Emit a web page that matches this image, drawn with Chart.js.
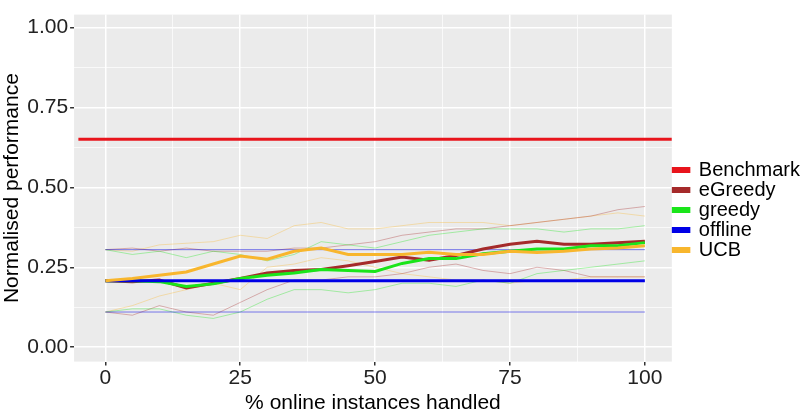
<!DOCTYPE html>
<html lang="en">
<head>
<meta charset="UTF-8">
<script src="https://cdn.jsdelivr.net/npm/chart.js"></script>
<style>
  body { margin: 0; background: #fff; }
  #wrap { width: 810px; height: 416px; }
</style>
</head>
<body>
<div id="wrap"><canvas id="c"></canvas></div>
<script>
const xs = [0, 5, 10, 15, 20, 25, 30, 35, 40, 45, 50, 55, 60, 65, 70, 75, 80, 85, 90, 95, 100];

const benchmark = 0.65;
const offline = 0.208;
const offlineUpper = 0.305;
const offlineLower = 0.11;

const ucb = [0.208, 0.215, 0.225, 0.235, 0.26, 0.285, 0.275, 0.3, 0.31, 0.29, 0.29, 0.29, 0.297, 0.29, 0.29, 0.3, 0.296, 0.3, 0.307, 0.31, 0.317];
const eGreedy = [0.208, 0.205, 0.21, 0.185, 0.2, 0.215, 0.232, 0.24, 0.243, 0.255, 0.268, 0.282, 0.272, 0.287, 0.307, 0.322, 0.331, 0.322, 0.322, 0.327, 0.331];
const greedy = [0.208, 0.208, 0.205, 0.19, 0.198, 0.215, 0.225, 0.232, 0.243, 0.24, 0.237, 0.262, 0.277, 0.277, 0.292, 0.3, 0.307, 0.307, 0.317, 0.317, 0.327];

const ucbUpper = [0.305, 0.3, 0.32, 0.325, 0.33, 0.35, 0.34, 0.38, 0.39, 0.37, 0.37, 0.38, 0.39, 0.39, 0.39, 0.38, 0.39, 0.4, 0.41, 0.42, 0.41];
const ucbLower = [0.11, 0.13, 0.16, 0.18, 0.2, 0.18, 0.25, 0.26, 0.28, 0.27, 0.25, 0.23, 0.22, 0.21, 0.21, 0.2, 0.21, 0.21, 0.22, 0.22, 0.22];
const eGreedyUpper = [0.305, 0.31, 0.3, 0.31, 0.3, 0.3, 0.3, 0.31, 0.31, 0.32, 0.33, 0.35, 0.36, 0.37, 0.37, 0.38, 0.39, 0.4, 0.41, 0.43, 0.44];
const eGreedyLower = [0.11, 0.1, 0.13, 0.11, 0.1, 0.14, 0.18, 0.21, 0.21, 0.22, 0.22, 0.23, 0.25, 0.26, 0.24, 0.23, 0.25, 0.24, 0.22, 0.22, 0.22];
const greedyUpper = [0.305, 0.29, 0.3, 0.28, 0.3, 0.29, 0.27, 0.29, 0.33, 0.32, 0.31, 0.33, 0.35, 0.36, 0.37, 0.37, 0.37, 0.36, 0.37, 0.37, 0.38];
const greedyLower = [0.11, 0.12, 0.12, 0.1, 0.09, 0.11, 0.15, 0.18, 0.18, 0.17, 0.18, 0.2, 0.2, 0.19, 0.21, 0.2, 0.23, 0.24, 0.25, 0.26, 0.27];

const yTicks = [0, 0.25, 0.5, 0.75, 1.0];
const xTicks = [0, 25, 50, 75, 100];

const pts = arr => arr.map((v, i) => ({ x: xs[i], y: v }));
const flat = v => [{ x: 0, y: v }, { x: 100, y: v }];

function main(label, data, color) {
  return { label, data, borderColor: color, backgroundColor: color, borderWidth: 3, pointRadius: 0, tension: 0 };
}
function thin(data, color) {
  return { label: '_', data, borderColor: color, borderWidth: 1, pointRadius: 0, tension: 0 };
}

const datasets = [
  thin(pts(ucbUpper), 'rgba(248,182,45,0.35)'),
  thin(pts(ucbLower), 'rgba(248,182,45,0.35)'),
  thin(pts(eGreedyUpper), 'rgba(165,42,42,0.35)'),
  thin(pts(eGreedyLower), 'rgba(165,42,42,0.35)'),
  thin(pts(greedyUpper), 'rgba(26,229,26,0.35)'),
  thin(pts(greedyLower), 'rgba(26,229,26,0.35)'),
  thin(flat(offlineUpper), 'rgba(0,0,230,0.5)'),
  thin(flat(offlineLower), 'rgba(0,0,230,0.5)'),
  main('Benchmark', [{ x: -5, y: benchmark }, { x: 105, y: benchmark }], '#e8141c'),
  main('eGreedy', pts(eGreedy), '#a52a2a'),
  main('greedy', pts(greedy), '#1ae51a'),
  main('offline', flat(offline), '#0000e6'),
  main('UCB', pts(ucb), '#f8b62d')
];

// thick lines on top of the thin ribbons
datasets.forEach((d, i) => d.order = datasets.length - i);

const panelBg = {
  id: 'panelBg',
  beforeDraw(chart) {
    const { ctx, chartArea: a } = chart;
    ctx.save();
    ctx.fillStyle = '#ebebeb';
    ctx.fillRect(a.left, a.top, a.right - a.left, a.bottom - a.top);
    ctx.restore();
  }
};

const font = { family: 'Liberation Sans', size: 21 };

new Chart(document.getElementById('c'), {
  type: 'line',
  data: { datasets },
  options: {
    responsive: true,
    maintainAspectRatio: false,
    animation: false,
    layout: { padding: { top: 4, right: 0, bottom: 0, left: 0 } },
    scales: {
      x: {
        type: 'linear', min: -5.8, max: 105,
        afterBuildTicks: s => { s.ticks = [0, 12.5, 25, 37.5, 50, 62.5, 75, 87.5, 100].map(v => ({ value: v })); },
        ticks: { color: '#222', font, maxRotation: 0, padding: 0, callback: v => xTicks.includes(v) ? String(v) : '' },
        grid: { color: '#fff', lineWidth: c => xTicks.includes(c.tick.value) ? 1.5 : 0.7, tickLength: 4,
                tickColor: c => xTicks.includes(c.tick.value) ? '#333' : 'rgba(0,0,0,0)' },
        border: { display: false },
        title: { display: true, text: '% online instances handled', color: '#000', font: { family: 'Liberation Sans', size: 21 }, padding: { top: 0, bottom: 0 } }
      },
      y: {
        type: 'linear', min: -0.045, max: 1.04,
        afterBuildTicks: s => { s.ticks = [0, 0.125, 0.25, 0.375, 0.5, 0.625, 0.75, 0.875, 1].map(v => ({ value: v })); },
        ticks: { color: '#222', font, padding: 2, callback: v => yTicks.includes(v) ? v.toFixed(2) : '' },
        grid: { color: '#fff', lineWidth: c => yTicks.includes(c.tick.value) ? 1.5 : 0.7, tickLength: 4,
                tickColor: c => yTicks.includes(c.tick.value) ? '#333' : 'rgba(0,0,0,0)' },
        border: { display: false },
        title: { display: true, text: 'Normalised performance', color: '#000', font: { family: 'Liberation Sans', size: 21 }, padding: { top: 0, bottom: 0 } }
      }
    },
    plugins: {
      legend: {
        position: 'right',
        labels: {
          filter: it => it.text !== '_',
          sort: (a, b) => a.datasetIndex - b.datasetIndex,
          color: '#000',
          font: { family: 'Liberation Sans', size: 20 },
          boxWidth: 17, boxHeight: 3, padding: 0
        }
      },
      tooltip: { enabled: false }
    }
  },
  plugins: [panelBg]
});
</script>
</body>
</html>
